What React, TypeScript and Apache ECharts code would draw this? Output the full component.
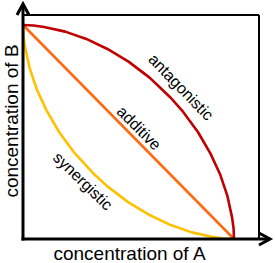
import React, { useEffect, useRef } from "react";
import * as echarts from "echarts";

// Isobologram curves (normalised concentrations)
const antagonisticA = [0, 0.05, 0.1, 0.2, 0.3, 0.4, 0.5, 0.6, 0.7, 0.754, 0.829, 0.888, 0.935, 0.969, 0.991, 0.998, 1];
const antagonisticB = [1, 0.998, 0.991, 0.969, 0.935, 0.888, 0.829, 0.754, 0.66, 0.6, 0.5, 0.4, 0.3, 0.2, 0.1, 0.05, 0];
const additiveA = [0, 1];
const additiveB = [1, 0];
const synergisticA = [0, 0.002, 0.009, 0.031, 0.065, 0.112, 0.171, 0.246, 0.34, 0.4, 0.5, 0.6, 0.7, 0.8, 0.9, 0.95, 1];
const synergisticB = [1, 0.95, 0.9, 0.8, 0.7, 0.6, 0.5, 0.4, 0.3, 0.246, 0.171, 0.112, 0.065, 0.031, 0.009, 0.002, 0];

const xName = "concentration of A";
const yName = "concentration of B";
const labelAnt = "antagonistic";
const labelAdd = "additive";
const labelSyn = "synergistic";

const RED = "#c00000";
const ORANGE = "#ff6a13";
const YELLOW = "#ffc000";
const FONT = "Liberation Sans";

const zip = (a: number[], b: number[]) => a.map((v, i) => [v, b[i]]);

export default function App() {
  const ref = useRef<HTMLDivElement>(null);
  useEffect(() => {
    if (!ref.current) return;
    const chart = echarts.init(ref.current, null, { renderer: "svg" });
    const L = 23, T = 25, W = 211, H = 214;
    const X0 = L, Y0 = T + H; // origin
    const boxR = 259, boxT = 15;
    const tipX = 271, tipY = 3;
    const deg = Math.PI / 180;
    const lineOpt = (name: string, a: number[], b: number[], color: string) => ({
      type: "line",
      name,
      data: zip(a, b),
      showSymbol: false,
      symbol: "none",
      smooth: false,
      clip: false,
      lineStyle: { color, width: 2.6 },
      z: 3,
    });
    chart.setOption({
      animation: false,
      backgroundColor: "#ffffff",
      grid: { left: L, top: T, width: W, height: H, show: false },
      xAxis: { type: "value", min: 0, max: 1, show: false },
      yAxis: { type: "value", min: 0, max: 1, show: false },
      series: [
        lineOpt(labelSyn, synergisticA, synergisticB, YELLOW),
        lineOpt(labelAdd, additiveA, additiveB, ORANGE),
        lineOpt(labelAnt, antagonisticA, antagonisticB, RED),
      ],
      graphic: [
        { type: "line", shape: { x1: X0, y1: boxT, x2: boxR, y2: boxT }, style: { stroke: "#000", lineWidth: 2 }, z: 1 },
        { type: "line", shape: { x1: boxR, y1: boxT, x2: boxR, y2: Y0 }, style: { stroke: "#000", lineWidth: 2 }, z: 1 },
        { type: "line", shape: { x1: X0, y1: Y0 + 1.5, x2: X0, y2: tipY + 1 }, style: { stroke: "#000", lineWidth: 3 }, z: 10 },
        { type: "line", shape: { x1: X0 - 1.5, y1: Y0, x2: tipX - 1, y2: Y0 }, style: { stroke: "#000", lineWidth: 3 }, z: 10 },
        { type: "polyline", shape: { points: [[X0 - 6, tipY + 12], [X0, tipY + 1], [X0 + 6, tipY + 12]] }, style: { stroke: "#000", lineWidth: 3, fill: null }, z: 10 },
        { type: "polyline", shape: { points: [[tipX - 12, Y0 - 6], [tipX - 1, Y0], [tipX - 12, Y0 + 6]] }, style: { stroke: "#000", lineWidth: 3, fill: null }, z: 10 },
        { type: "text", x: 129.5, y: 253.5, style: { text: xName, font: `19px "${FONT}"`, fill: "#000", align: "center", verticalAlign: "middle" }, z: 10 },
        { type: "text", x: 11.5, y: 121, rotation: 90 * deg, style: { text: yName, font: `19px "${FONT}"`, fill: "#000", align: "center", verticalAlign: "middle" }, z: 10 },
        { type: "text", x: 181, y: 87, rotation: -46 * deg, style: { text: labelAnt, font: `16px "${FONT}"`, fill: "#000", align: "center", verticalAlign: "middle" }, z: 10 },
        { type: "text", x: 139, y: 128, rotation: -45 * deg, style: { text: labelAdd, font: `16px "${FONT}"`, fill: "#000", align: "center", verticalAlign: "middle" }, z: 10 },
        { type: "text", x: 83, y: 181, rotation: -44 * deg, style: { text: labelSyn, font: `16px "${FONT}"`, fill: "#000", align: "center", verticalAlign: "middle" }, z: 10 },
      ],
    });
    return () => chart.dispose();
  }, []);
  return <div ref={ref} style={{ width: 275, height: 263, position: "absolute", left: 0, top: 0 }} />;
}
